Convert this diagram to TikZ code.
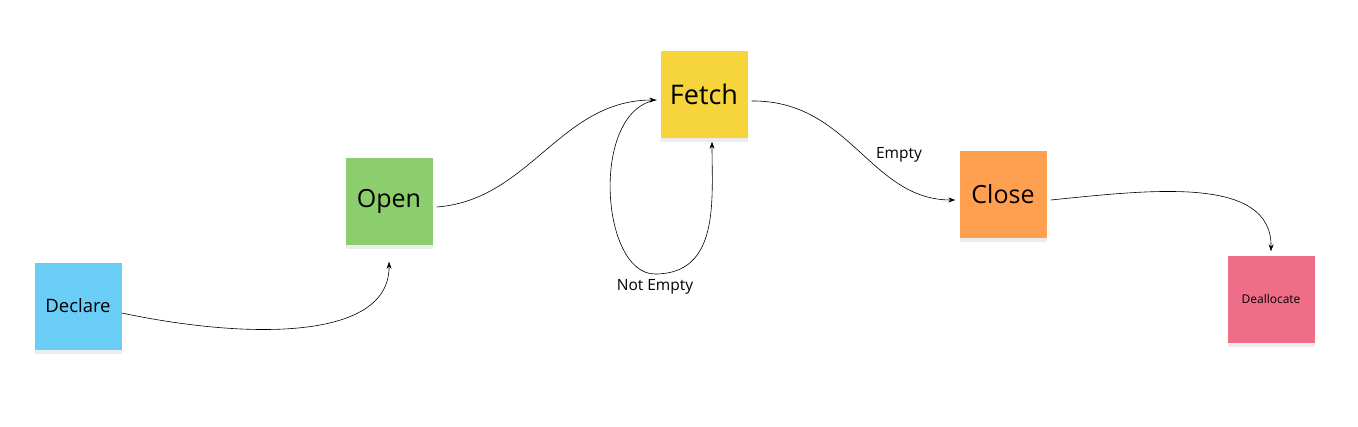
\documentclass[tikz,border=0pt]{standalone}
\usepackage{fontspec}
\setmainfont{Open Sans}
\usetikzlibrary{arrows.meta,shadows}
\definecolor{cblue}{RGB}{105,205,245}
\definecolor{cgreen}{RGB}{140,205,110}
\definecolor{cyellow}{RGB}{245,212,60}
\definecolor{corange}{RGB}{255,160,80}
\definecolor{cpink}{RGB}{238,110,135}
\begin{document}
\begin{tikzpicture}[x=1pt,y=-1pt,
  note/.style={minimum width=87pt,minimum height=87pt,inner sep=0pt,
    drop shadow={shadow xshift=0pt,shadow yshift=-4pt,opacity=0.15}},
  conn/.style={-{Stealth[length=7pt,width=5pt]},line width=0.6pt},
  lbl/.style={font=\fontsize{15.5}{18}\selectfont}]
\useasboundingbox (0,0) rectangle (1358,426);
\node[note,fill=cblue,font=\fontsize{18.5}{22}\selectfont] (declare) at (78,306) {Declare};
\node[note,fill=cgreen,font=\fontsize{25}{30}\selectfont] (open) at (389,201) {Open};
\node[note,fill=cyellow,font=\fontsize{27}{32}\selectfont] (fetch) at (704,94) {Fetch};
\node[note,fill=corange,font=\fontsize{25}{30}\selectfont] (close) at (1003,194) {Close};
\node[note,fill=cpink,font=\fontsize{12}{14}\selectfont] (dealloc) at (1271,299) {Deallocate};
\draw[conn] (declare.east |- 0,313) .. controls (250,340) and (390,340) .. ([yshift=-17pt]open.south);
\draw[conn] ([xshift=4pt]open.east |- 0,207) .. controls (530,200) and (560,100) .. ([xshift=-4pt]fetch.west |- 0,100);
\draw[conn] ([xshift=-4pt]fetch.west |- 0,100) .. controls (590,110) and (600,274) .. (655,274)
  node[lbl,below=2pt] (ne) {Not Empty}
  .. controls (720,274) and (712,200) .. ([xshift=8pt,yshift=-4pt]fetch.south);
\draw[conn] ([xshift=4pt]fetch.east |- 0,101) .. controls (850,100) and (870,200) .. ([xshift=-4pt]close.west |- 0,200);
\node[lbl] (empty) at (899,155) {Empty};
\draw[conn] ([xshift=4pt]close.east |- 0,200) .. controls (1150,190) and (1272,175) .. ([yshift=4pt]dealloc.north);
\end{tikzpicture}
\end{document}
